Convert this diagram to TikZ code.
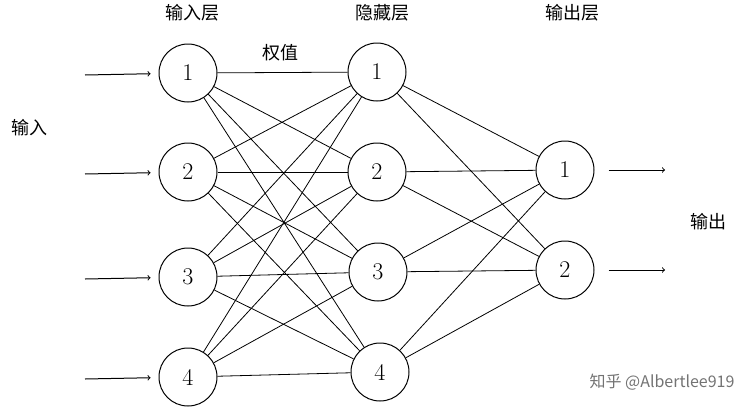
\documentclass[tikz,border=0pt]{standalone}
\usepackage{fontspec}
\newfontfamily\cjk{Noto Sans CJK SC}
\begin{document}
\begin{tikzpicture}[x=1pt,y=-1pt,
  neuron/.style={draw,circle,line width=1pt,minimum size=58pt,inner sep=0pt,font=\fontsize{24}{24}\selectfont},
  lab/.style={font=\cjk\fontsize{18}{18}\selectfont},
  conn/.style={line width=0.8pt},
  arr/.style={line width=1pt,->,>=to}]
\useasboundingbox (0,0) rectangle (737,413);
\foreach \i/\y in {1/73,2/172,3/277,4/377}{
  \node[neuron] (i\i) at (188,\y) {\i};
  \coordinate (s\i) at (85,\y+2);
  \draw[arr,shorten >=8pt] (s\i) -- (i\i);
}
\foreach \i/\x/\y in {1/377/72,2/377/172,3/378/272,4/380/372}{
  \node[neuron] (h\i) at (\x,\y) {\i};
}
\foreach \i/\y in {1/170,2/270}{
  \node[neuron] (o\i) at (565,\y) {\i};
  \coordinate (e\i) at (665,\y);
  \draw[arr,shorten <=14pt] (o\i) -- (e\i);
}
\foreach \a in {1,...,4}{\foreach \b in {1,...,4}{\draw[conn] (i\a) -- (h\b);}}
\foreach \a in {1,...,4}{\foreach \b in {1,2}{\draw[conn] (h\a) -- (o\b);}}
\node[lab] (t1) at (192,13) {输入层};
\node[lab] (t2) at (382,13) {隐藏层};
\node[lab] (t3) at (572,13) {输出层};
\node[lab] (t4) at (280,53) {权值};
\node[lab] (t5) at (30,128) {输入};
\node[lab] (t6) at (708,222) {输出};
\node[font=\cjk\fontsize{16}{16}\selectfont,text=black!55] (wm) at (662,382) {知乎 @Albertlee919};
\end{tikzpicture}
\end{document}
